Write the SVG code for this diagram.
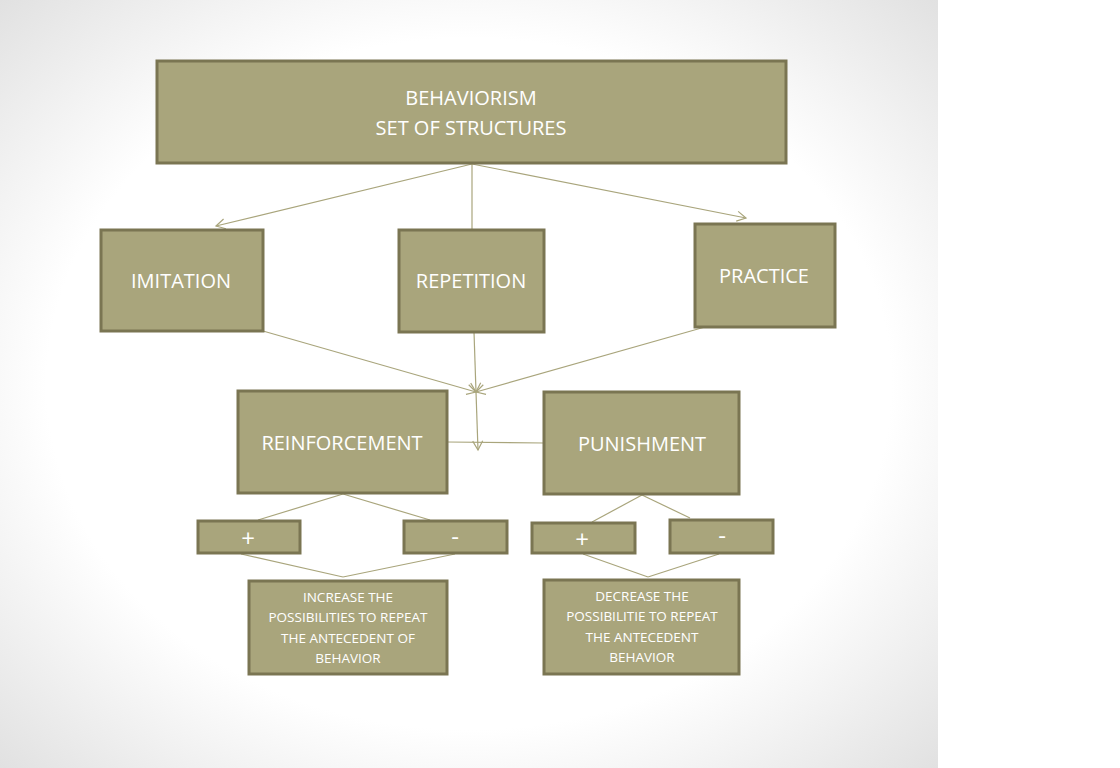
<svg xmlns="http://www.w3.org/2000/svg" width="1120" height="768" viewBox="0 0 1120 768">
<defs>
<radialGradient id="bg" cx="0.5" cy="0.5" r="0.75">
<stop offset="0.6" stop-color="#ffffff"/><stop offset="1" stop-color="#dcdcdc"/>
</radialGradient>
<marker id="ar" markerWidth="12" markerHeight="12" refX="10" refY="6" orient="auto" markerUnits="userSpaceOnUse">
<path d="M1,1 L10,6 L1,11" fill="none" stroke="#a9a57c" stroke-width="1.2"/>
</marker>
<style>
.b{fill:#a9a57c;stroke:#7a7552;stroke-width:3}
.t{fill:#fff;font-family:"Open Sans","Liberation Sans",sans-serif;text-anchor:middle}
.l{font-size:20px}.s{font-size:13.5px}.p{font-size:24px}
.c line{stroke:#a9a57c;stroke-width:1.2}
</style>
</defs>
<rect width="938" height="768" fill="url(#bg)"/>
<rect x="938" width="182" height="768" fill="#fff"/>
<g class="c">
<line x1="472" y1="164" x2="216" y2="226" marker-end="url(#ar)"/>
<line x1="472" y1="164" x2="472" y2="230"/>
<line x1="472" y1="164" x2="746" y2="218" marker-end="url(#ar)"/>
<line x1="263" y1="331" x2="476" y2="392" marker-end="url(#ar)"/>
<line x1="474" y1="332" x2="476" y2="392" marker-end="url(#ar)"/>
<line x1="705" y1="327" x2="476" y2="392" marker-end="url(#ar)"/>
<line x1="476" y1="392" x2="478" y2="450" marker-end="url(#ar)"/>
<line x1="447" y1="442" x2="544" y2="443"/>
<line x1="343" y1="494" x2="258" y2="520"/>
<line x1="343" y1="494" x2="430" y2="520"/>
<line x1="642" y1="495" x2="592" y2="522"/>
<line x1="642" y1="495" x2="690" y2="518"/>
<line x1="241" y1="554" x2="343" y2="577"/>
<line x1="455" y1="554" x2="343" y2="577"/>
<line x1="583" y1="554" x2="648" y2="577"/>
<line x1="719" y1="554" x2="648" y2="577"/>
</g>
<g id="top"><rect class="b" x="157" y="61" width="629" height="102"/>
<text class="t l" x="471" y="105">BEHAVIORISM</text><text class="t l" x="471" y="135">SET OF STRUCTURES</text></g>
<g id="imitation"><rect class="b" x="101" y="230" width="162" height="101"/><text class="t l" x="181" y="288">IMITATION</text></g>
<g id="repetition"><rect class="b" x="399" y="230" width="145" height="102"/><text class="t l" x="471" y="288">REPETITION</text></g>
<g id="practice"><rect class="b" x="695" y="224" width="140" height="103"/><text class="t l" x="764" y="283">PRACTICE</text></g>
<g id="reinforcement"><rect class="b" x="238" y="391" width="209" height="102"/><text class="t l" x="342" y="450">REINFORCEMENT</text></g>
<g id="punishment"><rect class="b" x="544" y="392" width="195" height="102"/><text class="t l" x="642" y="451">PUNISHMENT</text></g>
<g id="rplus"><rect class="b" x="198" y="521" width="102" height="32"/><text class="t p" x="248" y="547">+</text></g>
<g id="rminus"><rect class="b" x="404" y="521" width="103" height="32"/><text class="t p" x="455" y="545">-</text></g>
<g id="pplus"><rect class="b" x="532" y="523" width="103" height="30"/><text class="t p" x="582" y="548">+</text></g>
<g id="pminus"><rect class="b" x="670" y="520" width="103" height="33"/><text class="t p" x="722" y="544">-</text></g>
<g id="increase"><rect class="b" x="249" y="581" width="198" height="93"/>
<text class="t s" x="348" y="602">INCREASE THE</text><text class="t s" x="348" y="622">POSSIBILITIES TO REPEAT</text><text class="t s" x="348" y="643">THE ANTECEDENT OF</text><text class="t s" x="348" y="663">BEHAVIOR</text></g>
<g id="decrease"><rect class="b" x="544" y="580" width="195" height="94"/>
<text class="t s" x="642" y="601">DECREASE THE</text><text class="t s" x="642" y="621">POSSIBILITIE TO REPEAT</text><text class="t s" x="642" y="642">THE ANTECEDENT</text><text class="t s" x="642" y="662">BEHAVIOR</text></g>
</svg>
